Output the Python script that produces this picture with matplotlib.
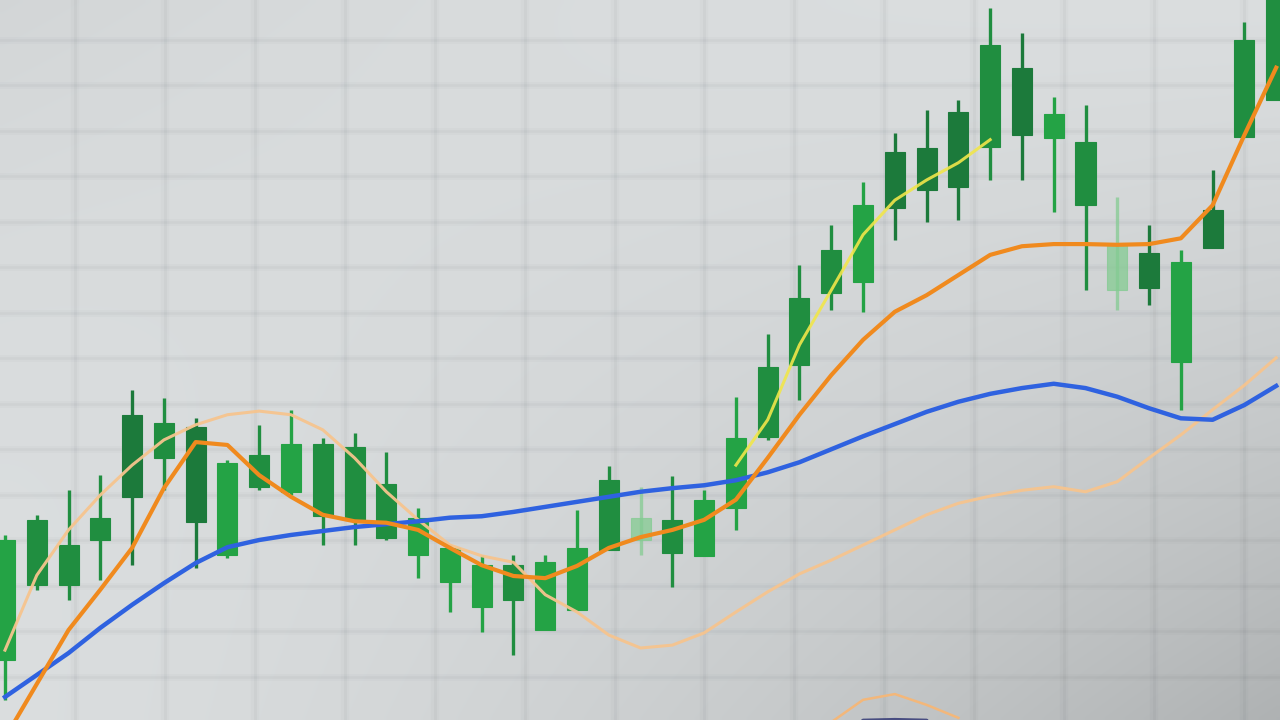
import numpy as np
import matplotlib
matplotlib.use("Agg")
import matplotlib.pyplot as plt
from matplotlib.patches import Rectangle

# candle data (price units), index = position on the time axis
body_low = [108.3, 118.75, 118.75, 125.0, 131.0, 136.4, 127.5, 122.9, 132.4, 131.7,
            128.3, 127.8, 125.3, 122.9, 119.2, 115.7, 116.7, 112.5, 115.3, 123.6,
            125.0, 123.2, 122.8, 129.4, 139.3, 149.3, 159.3, 160.8, 171.1, 173.6,
            174.0, 179.6, 181.25, 180.8, 171.5, 159.7, 160.0, 149.7, 165.6, 181.0, 186.1]
body_high = [125.0, 127.8, 124.3, 128.1, 142.4, 141.25, 140.7, 135.7, 136.8, 138.3,
             138.3, 137.9, 132.8, 128.1, 123.9, 121.5, 121.5, 121.9, 123.9, 133.3,
             128.1, 127.8, 130.6, 139.2, 149.0, 158.6, 165.3, 171.5, 178.9, 179.4,
             184.4, 193.75, 190.6, 184.2, 180.3, 166.0, 164.9, 163.6, 170.8, 194.4, 201.0]
wick_high = [125.7, 128.5, 131.9, 134.0, 145.8, 144.7, 141.9, 136.1, 141.0, 143.1,
             139.2, 139.9, 137.2, 129.4, 124.3, 122.9, 122.9, 122.9, 129.2, 135.3,
             132.4, 133.9, 131.9, 144.9, 153.6, 163.2, 168.75, 174.7, 181.5, 184.7,
             186.1, 198.9, 195.4, 186.5, 185.4, 172.6, 168.75, 165.3, 176.4, 196.9, 203.0]
wick_low = [102.8, 118.1, 116.7, 119.4, 121.5, 131.9, 121.1, 122.5, 131.9, 131.25,
            124.3, 124.3, 125.0, 119.7, 115.0, 112.2, 109.0, 112.5, 115.3, 123.6,
            122.9, 118.5, 122.8, 126.4, 138.9, 144.4, 156.9, 156.7, 166.7, 169.2,
            169.4, 175.0, 175.0, 170.6, 159.7, 156.9, 157.6, 143.1, 165.6, 181.0, 186.1]
shade = ['b', 'm', 'm', 'm', 'd', 'm', 'd', 'b', 'm', 'b',
         'm', 'm', 'm', 'b', 'b', 'b', 'm', 'b', 'b', 'm',
         'l', 'm', 'b', 'b', 'm', 'm', 'm', 'b', 'd', 'd',
         'd', 'm', 'd', 'b', 'm', 'l', 'd', 'b', 'd', 'm', 'm']

# moving average lines, one value per candle (nan = not drawn)
ma_blue = [103.2, 106.25, 109.3, 112.8, 116.0, 119.0, 121.8, 124.0, 125.0, 125.7,
           126.25, 126.8, 127.2, 127.6, 128.1, 128.3, 128.9, 129.6, 130.3, 131.0,
           131.7, 132.2, 132.6, 133.3, 134.4, 135.8, 137.6, 139.4, 141.1, 142.8,
           144.2, 145.3, 146.1, 146.7, 146.1, 144.9, 143.3, 141.9, 141.7, 143.75, 146.4]
ma_orange = [97.5, 105.0, 112.5, 118.1, 123.9, 132.2, 138.6, 138.2, 134.0, 131.0,
             128.5, 127.6, 127.4, 126.4, 123.9, 121.5, 120.0, 119.7, 121.4, 123.9,
             125.4, 126.4, 127.8, 130.6, 136.4, 142.4, 147.9, 152.8, 156.7, 159.0,
             161.8, 164.6, 165.8, 166.1, 166.1, 166.0, 166.1, 166.9, 171.5, 181.25, 190.6]
ma_peach = [109.7, 120.1, 126.4, 131.25, 135.4, 138.9, 141.0, 142.4, 142.9, 142.4,
            140.3, 136.4, 131.7, 127.8, 124.3, 122.8, 121.9, 117.4, 115.0, 111.8,
            110.0, 110.4, 112.1, 115.0, 117.8, 120.3, 122.2, 124.3, 126.4, 128.5,
            130.1, 131.1, 131.9, 132.4, 131.7, 133.1, 136.4, 139.6, 143.1, 146.5, 150.3]
nan = np.nan
ma_yellow = [nan] * 23 + [135.4, 141.7, 152.1, 159.7, 167.4, 172.2, 175.0, 177.4, 180.6] + [nan] * 9
arc_low = [nan] * 26 + [99.7, 102.8, 103.6, 102.1, 100.3] + [nan] * 10
navy_low = [nan] * 27 + [99.9, 100.0, 99.9] + [nan] * 11

colors = {'d': '#1c7a3b', 'm': '#208e40', 'b': '#24a345', 'l': '#84cb92'}

fig = plt.figure(figsize=(12.8, 7.2), dpi=100)
ax = fig.add_axes([0, 0, 1, 1])
ax.set_xlim(-0.157, 40.12)
ax.set_ylim(100, 200)

# soft gray background, darker toward the lower right
gx, gy = np.meshgrid(np.linspace(0, 1, 256), np.linspace(0, 1, 144))
lum = 0.868 - 0.17 * gx ** 1.6 * (1 - gy) ** 1.4 - 0.03 * (1 - gx) ** 3 * gy ** 3
bg = np.dstack([lum - 0.012, lum, lum + 0.004])
ax.imshow(np.clip(bg, 0, 1), extent=(0, 1, 0, 1), transform=ax.transAxes,
          origin='lower', aspect='auto', interpolation='bilinear', zorder=0)

for xv in np.arange(2.2, 41, 2.83):
    ax.axvline(xv, color='#303840', alpha=0.025, lw=6, zorder=1)
    ax.axvline(xv, color='#303840', alpha=0.035, lw=2.2, zorder=1)
for yv in np.arange(106.0, 200, 6.32):
    ax.axhline(yv, color='#303840', alpha=0.02, lw=5, zorder=1)
    ax.axhline(yv, color='#303840', alpha=0.035, lw=1.8, zorder=1)

idx = np.arange(len(body_low))
w = 0.63
for i in idx:
    c = colors[shade[i]]
    a = 0.75 if shade[i] == 'l' else 1.0
    ax.plot([i, i], [wick_low[i], wick_high[i]], color=c, lw=2.4, alpha=a, zorder=3,
            solid_capstyle='butt')
    ax.add_patch(Rectangle((i - w / 2, body_low[i]), w, body_high[i] - body_low[i],
                           facecolor=c, edgecolor=c, lw=0.8, alpha=a, zorder=3))

ax.plot(idx, ma_peach, color='#f6c48e', lw=2.2, alpha=0.95, zorder=4)
ax.plot(idx, arc_low, color='#f3b77a', lw=1.8, zorder=4)
ax.plot(idx, navy_low, color='#2a3070', lw=3, alpha=0.8, solid_capstyle='round', zorder=4)
ax.plot(idx, ma_blue, color='#2f62e0', lw=3.2, zorder=5)
ax.plot(idx, ma_yellow, color='#f1e64a', lw=2.2, alpha=0.9, zorder=5)
ax.plot(idx, ma_orange, color='#f08a1e', lw=3.0, zorder=6)

ax.axis('off')
fig.savefig('out.png', dpi=100)
